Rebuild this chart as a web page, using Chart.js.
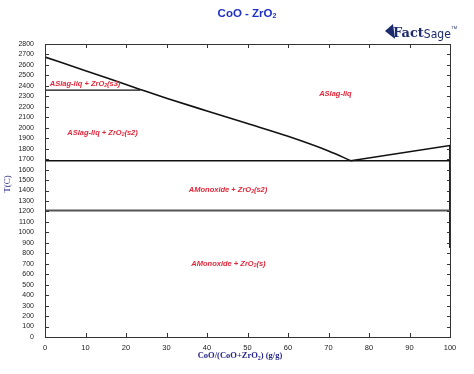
<!DOCTYPE html>
<html>
<head>
<meta charset="utf-8">
<script src="https://cdn.jsdelivr.net/npm/chart.js@4"></script>
<style>
  html, body { margin: 0; padding: 0; background: #fff; }
  #wrap { width: 474px; height: 374px; }
</style>
</head>
<body>
<div id="wrap"><canvas id="c" width="474" height="374"></canvas></div>
<script>
// liquidus, CoO-poor side down to the eutectic
const liqX = [0, 10, 20, 23.5, 30, 40, 50, 60, 70, 75.5];
const liqT = [2675, 2545, 2412, 2366, 2282, 2160, 2040, 1918, 1778, 1685];
// liquidus, CoO-rich side
const liq2X = [75.5, 100];
const liq2T = [1685, 1830];
// invariant lines
const peritX = [0, 23.5];
const peritT = [2360, 2360];
const eutX = [0, 100];
const eutT = [1685, 1685];
const transX = [0, 100];
const transT = [1210, 1210];
const edgeX = [100, 100];
const edgeT = [1830, 850];

const xTicks = [0, 10, 20, 30, 40, 50, 60, 70, 80, 90, 100];

// region labels: [text before subscript, subscript, after, x, T, align]
const regionLabels = [
    ['ASlag-liq + ZrO', '2', '(s3)', 1.2, 2422, 'left'],
    ['ASlag-liq', '', '', 71.7, 2327, 'center'],
    ['ASlag-liq + ZrO', '2', '(s2)', 14.2, 1954, 'center'],
    ['AMonoxide + ZrO', '2', '(s2)', 45.2, 1409, 'center'],
    ['AMonoxide + ZrO', '2', '(s)', 45.3, 702, 'center']
];

function pts(xs, ys) {
    return xs.map((x, i) => ({ x, y: ys[i] }));
}

function line(data, color, width, smooth) {
    return {
        data, borderColor: color, borderWidth: width, showLine: true, pointRadius: 0, fill: false,
        cubicInterpolationMode: smooth ? 'monotone' : 'default', tension: smooth ? 0.4 : 0
    };
}

function subText(ctx, parts, x, y, font, subFont, align) {
    // parts: [main, sub, after]
    ctx.font = font;
    const w1 = ctx.measureText(parts[0]).width;
    const w3 = ctx.measureText(parts[2]).width;
    ctx.font = subFont;
    const w2 = ctx.measureText(parts[1]).width;
    const total = w1 + w2 + w3;
    let sx = x;
    if (align === 'center') sx = x - total / 2;
    if (align === 'right') sx = x - total;
    ctx.textAlign = 'left';
    ctx.textBaseline = 'middle';
    ctx.font = font;
    ctx.fillText(parts[0], sx, y);
    ctx.font = subFont;
    ctx.fillText(parts[1], sx + w1, y + 2);
    ctx.font = font;
    ctx.fillText(parts[2], sx + w1 + w2, y);
}

const decor = {
    id: 'decor',
    afterDraw(chart) {
        const ctx = chart.ctx;
        const a = chart.chartArea;
        const xs = chart.scales.x, ys = chart.scales.y;
        ctx.save();

        // frame
        ctx.strokeStyle = '#333';
        ctx.lineWidth = 1;
        ctx.strokeRect(a.left + 0.5, a.top + 0.5, a.right - a.left, a.bottom - a.top);

        // inward ticks
        ctx.beginPath();
        xTicks.forEach(v => {
            const px = Math.round(xs.getPixelForValue(v)) + 0.5;
            ctx.moveTo(px, a.bottom); ctx.lineTo(px, a.bottom - 4);
            ctx.moveTo(px, a.top); ctx.lineTo(px, a.top + 4);
        });
        for (let v = 0; v <= 2800; v += 100) {
            const py = Math.round(ys.getPixelForValue(v)) + 0.5;
            ctx.moveTo(a.left, py); ctx.lineTo(a.left + 4, py);
            ctx.moveTo(a.right, py); ctx.lineTo(a.right - 3, py);
        }
        ctx.stroke();

        // title
        ctx.fillStyle = '#1f2fc8';
        subText(ctx, ['CoO - ZrO', '2', ''], 247, 14, 'bold 11.5px "Liberation Sans", Arial, sans-serif',
            'bold 7px "Liberation Sans", Arial, sans-serif', 'center');

        // FactSage mark
        ctx.fillStyle = '#1c2a6e';
        ctx.textBaseline = 'alphabetic';
        ctx.textAlign = 'left';
        ctx.font = 'bold 13px "DejaVu Serif", serif';
        ctx.fillText('Fact', 393, 37);
        const fw = ctx.measureText('Fact').width;
        ctx.font = '12px "DejaVu Sans Condensed", "DejaVu Sans", sans-serif';
        ctx.fillText('Sage', 393 + fw, 38);
        const sw = ctx.measureText('Sage').width;
        ctx.font = '4px "Liberation Sans", sans-serif';
        ctx.fillText('TM', 393 + fw + sw + 0.5, 29);
        ctx.beginPath();
        ctx.moveTo(385, 31); ctx.lineTo(393, 24); ctx.lineTo(395, 39); ctx.closePath();
        ctx.fill();

        // axis titles
        ctx.fillStyle = '#25258a';
        subText(ctx, ['CoO/(CoO+ZrO', '2', ') (g/g)'], 240, 356, 'bold 8.5px "Liberation Serif", "Times New Roman", serif',
            'bold 6px "Liberation Serif", serif', 'center');
        ctx.save();
        ctx.translate(8, 184);
        ctx.rotate(-Math.PI / 2);
        ctx.font = '9px "Liberation Serif", "Times New Roman", serif';
        ctx.textAlign = 'center';
        ctx.textBaseline = 'middle';
        ctx.fillText('T(C)', 0, 0);
        ctx.restore();

        // region labels
        ctx.fillStyle = '#e0283c';
        regionLabels.forEach(l => {
            subText(ctx, [l[0], l[1], l[2]], xs.getPixelForValue(l[3]), ys.getPixelForValue(l[4]),
                'italic bold 7.5px "Liberation Sans", Arial, sans-serif',
                'italic bold 5px "Liberation Sans", Arial, sans-serif', l[5]);
        });
        ctx.restore();
    }
};

new Chart(document.getElementById('c'), {
    type: 'scatter',
    data: {
        datasets: [
            line(pts(liqX, liqT), '#111', 1.6, true),
            line(pts(liq2X, liq2T), '#111', 1.6, false),
            line(pts(peritX, peritT), '#111', 1.2, false),
            line(pts(eutX, eutT), '#111', 1.5, false),
            line(pts(transX, transT), '#555', 2, false),
            line(pts(edgeX, edgeT), '#222', 2, false)
        ]
    },
    options: {
        responsive: false,
        animation: false,
        layout: { padding: { top: 44, right: 24, bottom: 0, left: 0 } },
        plugins: { legend: { display: false }, tooltip: { enabled: false } },
        scales: {
            x: {
                type: 'linear', min: 0, max: 100,
                afterFit(s) { s.height = 37; },
                afterBuildTicks(s) { s.ticks = xTicks.map(v => ({ value: v })); },
                grid: { display: false, drawTicks: false },
                border: { display: false },
                ticks: { padding: 6, color: '#222', callback: v => String(v), font: { size: 7.5, family: '"Liberation Sans", Arial, sans-serif' } }
            },
            y: {
                type: 'linear', min: 0, max: 2800,
                afterFit(s) { s.width = 45; },
                grid: { display: false, drawTicks: false },
                border: { display: false },
                ticks: { stepSize: 100, autoSkip: false, padding: 11, color: '#222', callback: v => String(v), font: { size: 7, family: '"Liberation Sans", Arial, sans-serif' } }
            }
        }
    },
    plugins: [decor]
});
</script>
</body>
</html>
